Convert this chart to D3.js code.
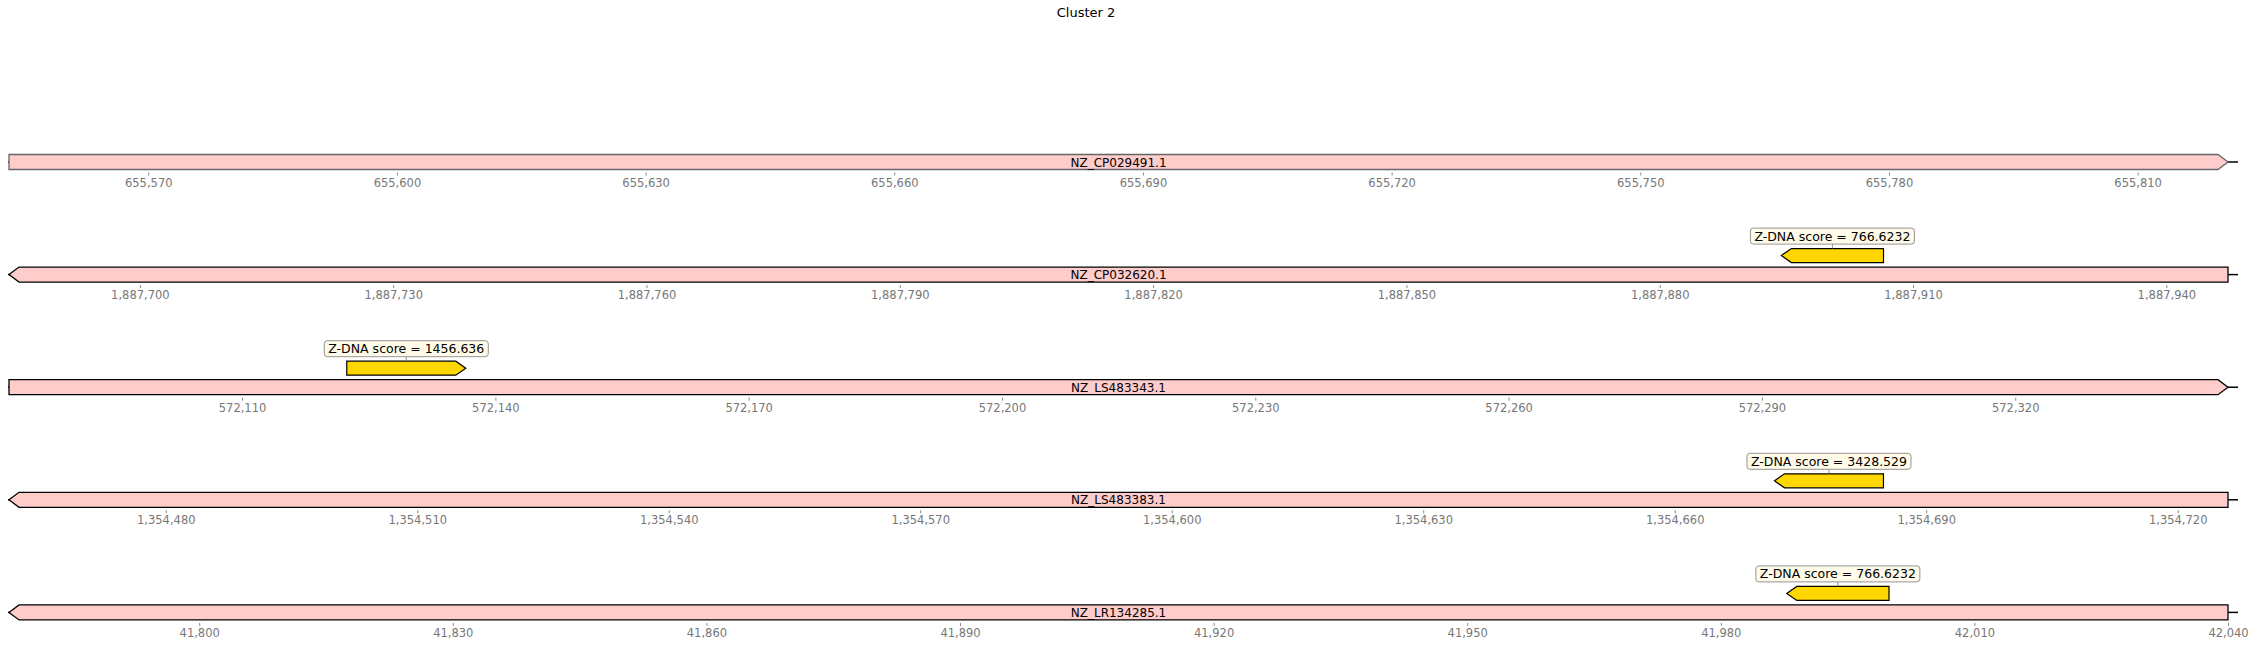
<!DOCTYPE html>
<html><head><meta charset="utf-8">
<script src="https://cdn.jsdelivr.net/npm/d3@7"></script>
<style>body{margin:0;background:#fff}svg{font-family:"DejaVu Sans",sans-serif}</style>
</head><body><svg id="c" width="2248" height="647"></svg>
<script>
const recordNames = ["NZ_CP029491.1","NZ_CP032620.1","NZ_LS483343.1","NZ_LS483383.1","NZ_LR134285.1"];
const recordStart = [655553.2, 1887684.5, 572082.4, 1354461.3, 41777.5];
const recordEnd   = [655820.9, 1887947.3, 572345.2, 1354726.0, 42040.0];
const recordStrand = [1, -1, 1, -1, -1];
const featStart = [null, 1887894.4, 572122.4, 1354671.9, 41987.8];
const featEnd   = [null, 1887906.5, 572136.5, 1354684.9, 41999.9];
const featStrand = [null, -1, 1, -1, -1];
const featScore = [null, "766.6232", "1456.636", "3428.529", "766.6232"];
const tickFirst = [655570, 1887700, 572110, 1354480, 41800];
const tickLast  = [655810, 1887940, 572320, 1354720, 42040];
const tickStep = 30;

const svg = d3.select("#c");
svg.append("text").attr("x",1086).attr("y",17).attr("text-anchor","middle")
  .attr("font-size",13).text("Cluster 2");

const x0 = 9, x1 = 2228, trackY0 = 162, trackGap = 112.6, h = 15, head = 10;
const fmt = d3.format(",");

function arrowPath(a, b, yc, hh, strand){
  const t = hh/2, hd = Math.min(head, Math.abs(b-a));
  if (strand > 0) return `M${a},${yc-t}L${b-hd},${yc-t}L${b},${yc}L${b-hd},${yc+t}L${a},${yc+t}Z`;
  if (strand < 0) return `M${b},${yc-t}L${a+hd},${yc-t}L${a},${yc}L${a+hd},${yc+t}L${b},${yc+t}Z`;
  return `M${a},${yc-t}L${b},${yc-t}L${b},${yc+t}L${a},${yc+t}Z`;
}

recordNames.forEach((name,i)=>{
  const yc = trackY0 + i*trackGap;
  const x = d3.scaleLinear().domain([recordStart[i], recordEnd[i]]).range([x0, x1]);
  const g = svg.append("g");
  g.append("line").attr("x1",x1).attr("x2",x1+10).attr("y1",yc).attr("y2",yc).attr("stroke","#000").attr("stroke-width",1.5);
  g.append("line").attr("x1",x0-1).attr("x2",x0+2).attr("y1",yc).attr("y2",yc).attr("stroke","#000").attr("stroke-width",1.5);
  g.append("path").attr("d",arrowPath(x(recordStart[i]), x(recordEnd[i]), yc, h, recordStrand[i]))
    .attr("fill","#ffcccc").attr("stroke", i===0?"#666":"#000").attr("stroke-width",1.3);
  g.append("text").attr("x",(x0+x1)/2).attr("y",yc+4.5).attr("text-anchor","middle")
    .attr("font-size",12).text(name);
  const ticks = d3.range(tickFirst[i], tickLast[i]+1, tickStep);
  const axis = d3.axisBottom(x).tickValues(ticks).tickFormat(fmt).tickSize(3).tickPadding(3);
  const ag = g.append("g").attr("transform",`translate(0,${yc+h/2+3})`).call(axis);
  ag.select(".domain").remove();
  ag.selectAll("line").attr("stroke","#888");
  ag.selectAll("text").attr("fill","#777").attr("font-size",11.5).attr("font-family","DejaVu Sans");
  if (featStart[i] != null){
    const fy = yc - 19;
    const a = x(featStart[i]), b = x(featEnd[i]);
    g.append("path").attr("d",arrowPath(a,b,fy,14,featStrand[i]))
      .attr("fill","#ffd700").attr("stroke","#000").attr("stroke-width",1.2);
    const cx = (a+b)/2, by = yc - 38.5;
    g.append("line").attr("x1",cx).attr("x2",cx).attr("y1",by+8).attr("y2",fy-7).attr("stroke","#777").attr("stroke-width",0.8);
    const rect = g.append("rect");
    const t = g.append("text").attr("x",cx).attr("y",by+4.5).attr("text-anchor","middle")
      .attr("font-size",12.5).text("Z-DNA score = " + featScore[i]);
    const bb = t.node().getBBox();
    rect.attr("x",bb.x-4).attr("y",by-8).attr("width",bb.width+8).attr("height",16)
      .attr("rx",3).attr("fill","#fffbe8").attr("stroke","#888").attr("stroke-width",0.9);
  }
});
</script></body></html>
